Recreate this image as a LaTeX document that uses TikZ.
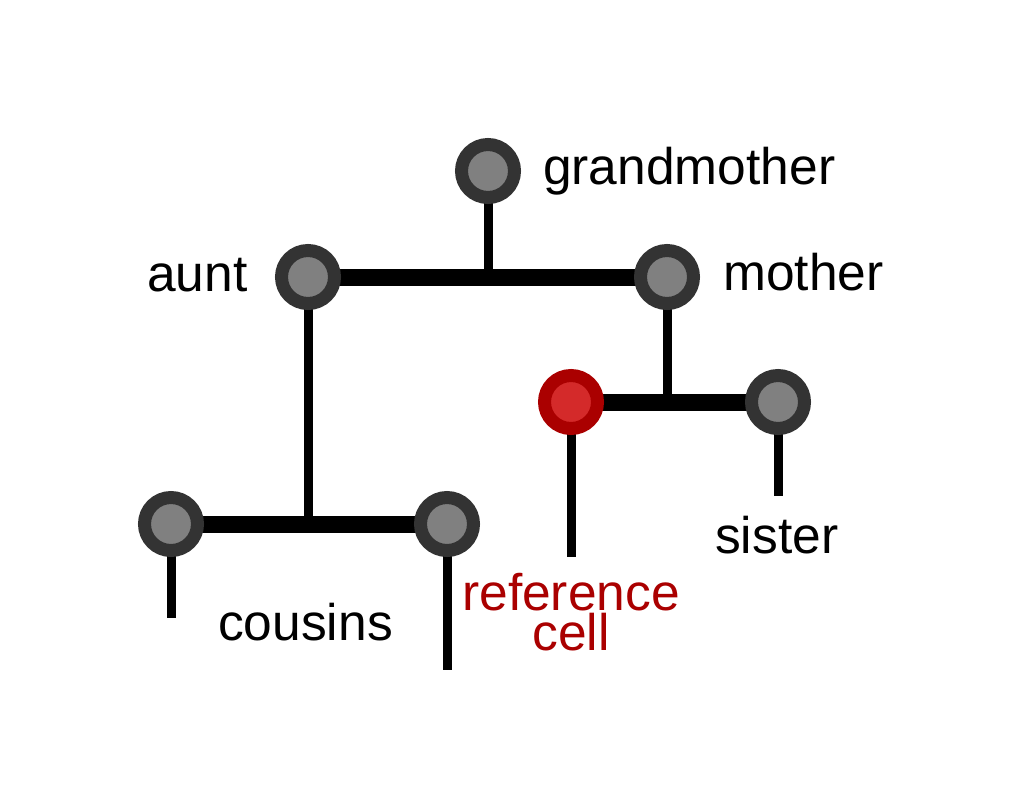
\documentclass[tikz,border=0pt]{standalone}
\usepackage{fontspec}
\setmainfont{Liberation Sans}
\usetikzlibrary{backgrounds}
\definecolor{ringdark}{HTML}{333333}
\definecolor{cellgray}{HTML}{808080}
\definecolor{ringred}{HTML}{AA0000}
\definecolor{cellred}{HTML}{D42A2A}
\tikzset{
  cell/.style={circle, draw=ringdark, fill=cellgray, line width=13pt, minimum size=53pt, inner sep=0pt},
  refcell/.style={cell, draw=ringred, fill=cellred},
  thinline/.style={line width=9pt, black},
  thickline/.style={line width=17pt, black},
  lbl/.style={anchor=base west, inner sep=0pt, font=\fontsize{51.5}{40}\selectfont},
}
\begin{document}
\begin{tikzpicture}[x=1pt,y=-1pt]
\begin{scope}[on background layer]
\fill[white] (0,0) rectangle (1024,809);
\end{scope}
\useasboundingbox (0,0) rectangle (1024,809);
% cells
\node[cell] (gm) at (488,171) {};
\node[cell] (aunt) at (308,277) {};
\node[cell] (mother) at (667,277) {};
\node[refcell] (ref) at (571,402) {};
\node[cell] (sister) at (778,402) {};
\node[cell] (c1) at (171,524) {};
\node[cell] (c2) at (447,524) {};
% junctions and free ends
\coordinate (j1) at (gm |- aunt);
\coordinate (j2) at (aunt |- c1);
\coordinate (j3) at (mother |- ref);
\coordinate (e1) at (171,618);
\coordinate (e2) at (447,670);
\coordinate (e3) at (571,557);
\coordinate (e4) at (778,496);
\begin{scope}[on background layer]
\draw[thickline] (aunt.center) -- (mother.center);
\draw[thickline] (ref.center) -- (sister.center);
\draw[thickline] (c1.center) -- (c2.center);
\draw[thinline] (gm.center) -- (j1);
\draw[thinline] (aunt.center) -- (j2);
\draw[thinline] (mother.center) -- (j3);
\draw[thinline] (c1.center) -- (e1);
\draw[thinline] (c2.center) -- (e2);
\draw[thinline] (ref.center) -- (e3);
\draw[thinline] (sister.center) -- (e4);
\end{scope}
% labels
\node[lbl] (tgm) at (543,184) {grandmother};
\node[lbl] (tmother) at (723,290) {mother};
\node[lbl] (taunt) at (147,291) {aunt};
\node[lbl] (tsister) at (715,553) {sister};
\node[lbl] (tcousins) at (218,640) {cousins};
\node[lbl, anchor=south, align=center, text=ringred] (tref) at (571,651) {reference\\cell};
\end{tikzpicture}
\end{document}
